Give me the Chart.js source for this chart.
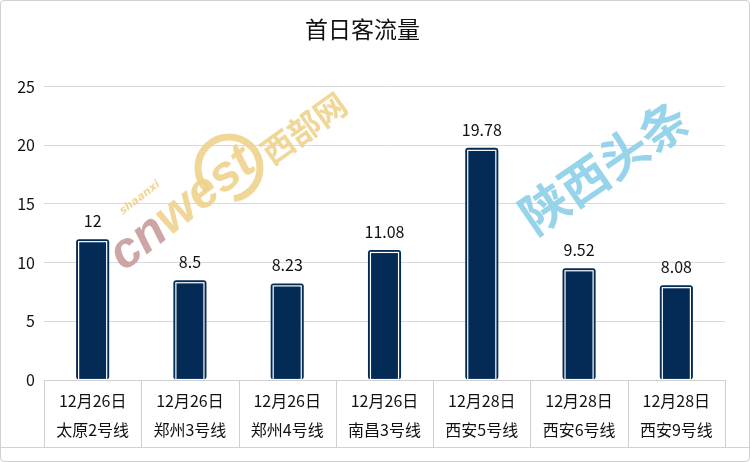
<!DOCTYPE html>
<html>
<head>
<meta charset="utf-8">
<script src="https://cdn.jsdelivr.net/npm/chart.js@4"></script>
<style>
body{margin:0;background:#fff;}
#wrap{position:relative;width:750px;height:462px;box-sizing:border-box;border:1px solid #d0d0d0;border-radius:4px;overflow:hidden;}
canvas{position:absolute;left:-1px;top:-1px;}
</style>
</head>
<body>
<div id="wrap"><canvas id="grafico" width="750" height="462"></canvas></div>
<script>
const fechas = ['12月26日','12月26日','12月26日','12月26日','12月28日','12月28日','12月28日'];
const lineas = ['太原2号线','郑州3号线','郑州4号线','南昌3号线','西安5号线','西安6号线','西安9号线'];
const pasajeros = [12, 8.5, 8.23, 11.08, 19.78, 9.52, 8.08];

const fuente = '"Noto Sans CJK SC", "Noto Sans", sans-serif';
const azul = '#032b55';

// etiquetas de valor y borde blanco interior
const barrasPlugin = {
  id:'barras',
  afterDatasetsDraw(chart){
    const c = chart.ctx;
    const meta = chart.getDatasetMeta(0);
    c.save();
    meta.data.forEach((bar,i)=>{
      const w = bar.width;
      const l = bar.x - w/2, t = bar.y;
      c.strokeStyle = '#ffffff';
      c.lineWidth = 1.2;
      c.strokeRect(l+2.5, t+2.5, w-5, bar.base - t - 2.5);
      c.fillStyle = '#111';
      c.font = '16px ' + fuente;
      c.textAlign = 'center';
      c.textBaseline = 'bottom';
      c.fillText(String(pasajeros[i]), bar.x, t - 10);
    });
    c.restore();
  }
};

// divisiones del eje x
const ejePlugin = {
  id:'eje',
  afterDraw(chart){
    const c = chart.ctx;
    const s = chart.scales.x;
    const a = chart.chartArea;
    const n = fechas.length;
    const paso = (s.right - s.left)/n;
    c.save();
    c.strokeStyle = '#d0d0d0';
    c.lineWidth = 1;
    for(let i=0;i<=n;i++){
      const x = Math.round(s.left + paso*i) + 0.5;
      c.beginPath(); c.moveTo(x, a.bottom); c.lineTo(x, a.bottom + 67); c.stroke();
    }
    c.beginPath(); c.moveTo(s.left, a.bottom + 0.5); c.lineTo(s.right, a.bottom + 0.5); c.stroke();
    c.beginPath(); c.moveTo(0, a.bottom + 67.5); c.lineTo(750, a.bottom + 67.5); c.stroke();
    c.restore();
  }
};

// marcas de agua
const marcaPlugin = {
  id:'marca',
  afterDraw(chart){
    const c = chart.ctx;
    c.save();
    c.globalAlpha = 0.9;
    c.strokeStyle = '#eed18c';
    c.lineWidth = 7;
    c.beginPath();
    c.arc(229, 168, 31, 0.75*Math.PI, 2.45*Math.PI);
    c.stroke();
    c.translate(124, 272);
    c.rotate(-0.66);
    c.font = 'italic bold 50px "Liberation Sans Narrow", "Liberation Sans", sans-serif';
    c.fillStyle = '#c99b9b';
    c.fillText('cn', 0, 0);
    const wcn = c.measureText('cn').width;
    c.fillStyle = '#eed18c';
    c.fillText('west', wcn, 0);
    c.font = 'italic bold 11px "DejaVu Sans", sans-serif';
    c.fillText('shaanxi', 34, -46);
    c.restore();

    c.save();
    c.globalAlpha = 0.9;
    c.translate(272, 166);
    c.rotate(-0.62);
    c.font = 'bold 32px ' + fuente;
    c.fillStyle = '#eed18c';
    c.fillText('西部网', 0, 0);
    c.restore();

    c.save();
    c.globalAlpha = 0.9;
    c.translate(535, 236);
    c.rotate(-0.6);
    c.font = 'bold 48px ' + fuente;
    c.fillStyle = '#8ccfea';
    c.fillText('陕西头条', 0, 0);
    c.restore();
  }
};

const ctx = document.getElementById('grafico');

new Chart(ctx,{
  type:'bar',
  data:{
    labels: fechas.map((f,i)=>[f, lineas[i]]),
    datasets:[{
      label:'首日客流量',
      data: pasajeros,
      backgroundColor: azul,
      borderColor: azul,
      borderWidth: 0,
      borderRadius: 3,
      borderSkipped: false,
      categoryPercentage: 1,
      barPercentage: 0.34
    }]
  },
  options:{
    responsive:false,
    animation:false,
    layout:{padding:{left:0,right:25,bottom:14}},
    plugins:{
      legend:{display:false},
      tooltip:{enabled:false},
      title:{
        display:true,
        text:'首日客流量',
        color:'#111',
        font:{family:fuente,size:23,weight:'normal',lineHeight:1.2},
        padding:{top:15,bottom:44}
      }
    },
    scales:{
      x:{
        grid:{display:false},
        border:{display:false},
        ticks:{color:'#111',font:{family:fuente,size:16,lineHeight:1.85},padding:-2,maxRotation:0,autoSkip:false},
        afterFit(s){ s.height = 68; }
      },
      y:{
        min:0,max:25,
        grid:{color:'#d9d9d9',drawTicks:false},
        border:{display:false},
        ticks:{stepSize:5,color:'#111',font:{family:fuente,size:16},padding:9},
        afterFit(s){ s.width = 44; }
      }
    }
  },
  plugins:[barrasPlugin, ejePlugin, marcaPlugin]
});
</script>
</body>
</html>
